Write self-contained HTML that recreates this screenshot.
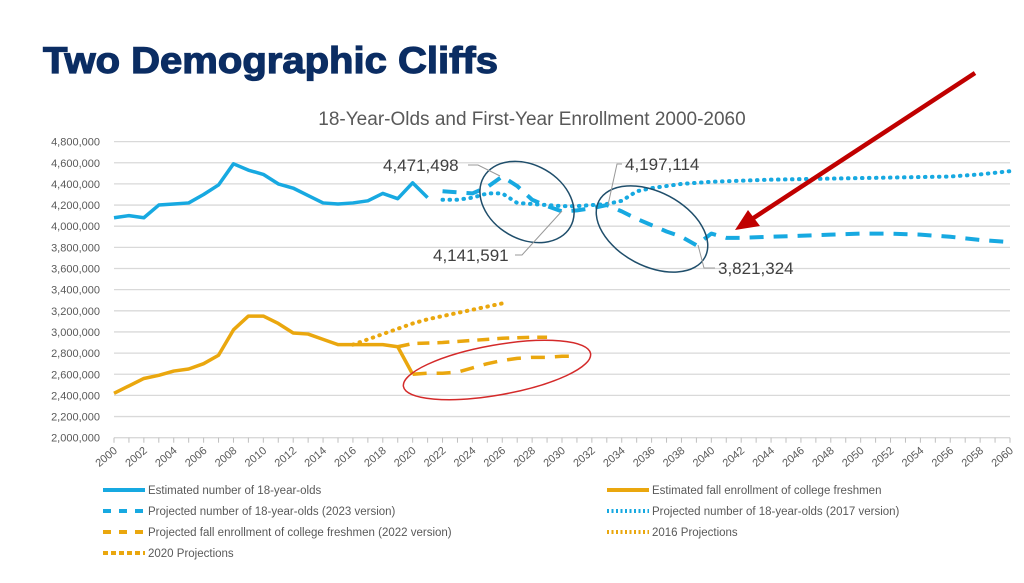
<!DOCTYPE html>
<html><head><meta charset="utf-8"><style>
html,body{margin:0;padding:0;background:#fff;width:1024px;height:583px;overflow:hidden}
svg text{font-family:"Liberation Sans",sans-serif}
</style></head><body>
<svg id="c" width="1024" height="583" xmlns="http://www.w3.org/2000/svg">
<text x="43" y="73" font-size="37" font-weight="bold" fill="#0b2d63" stroke="#0b2d63" stroke-width="1.2" textLength="455" lengthAdjust="spacingAndGlyphs">Two Demographic Cliffs</text>
<text x="532" y="125" font-size="19" fill="#595959" text-anchor="middle">18-Year-Olds and First-Year Enrollment 2000-2060</text>
<g id="grid"></g><g id="series"></g><g id="anno"></g><g id="legend"></g>
</svg>
<script>
const years18 = [2000,2001,2002,2003,2004,2005,2006,2007,2008,2009,2010,2011,2012,2013,2014,2015,2016,2017,2018,2019,2020,2021];
const est18 = [4.08,4.10,4.08,4.20,4.21,4.22,4.30,4.39,4.59,4.53,4.49,4.40,4.36,4.29,4.22,4.21,4.22,4.24,4.31,4.26,4.41,4.27];
const yearsP23 = [2022,2023,2024,2025,2026,2027,2028,2029,2030,2031,2032,2033,2034,2035,2036,2037,2038,2039,2040,2041,2042,2044,2046,2048,2050,2052,2054,2056,2058,2060];
const proj23 = [4.33,4.32,4.31,4.37,4.47,4.38,4.25,4.19,4.14,4.15,4.17,4.20,4.14,4.07,4.01,3.95,3.90,3.82,3.93,3.89,3.89,3.90,3.91,3.92,3.93,3.93,3.92,3.90,3.87,3.85];
const yearsP17 = [2022,2023,2024,2025,2026,2027,2028,2029,2030,2031,2032,2033,2034,2035,2036,2037,2038,2040,2044,2048,2052,2056,2058,2060];
const proj17 = [4.25,4.25,4.27,4.31,4.31,4.22,4.21,4.20,4.19,4.19,4.20,4.21,4.24,4.33,4.36,4.38,4.40,4.42,4.44,4.45,4.46,4.47,4.49,4.52];
const yearsEnr = [2000,2001,2002,2003,2004,2005,2006,2007,2008,2009,2010,2011,2012,2013,2014,2015,2016,2017,2018,2019,2020];
const estEnr = [2.42,2.49,2.56,2.59,2.63,2.65,2.70,2.78,3.02,3.15,3.15,3.08,2.99,2.98,2.93,2.88,2.88,2.88,2.88,2.86,2.60];
const yearsE22 = [2019,2020,2022,2024,2026,2028,2029];
const projE22 = [2.86,2.89,2.90,2.92,2.94,2.95,2.95];
const years16 = [2016,2017,2018,2019,2020,2021,2022,2023,2024,2025,2026];
const proj16 = [2.88,2.93,2.98,3.03,3.08,3.12,3.15,3.18,3.21,3.24,3.27];
const years20 = [2020,2021,2022,2023,2024,2025,2026,2027,2028,2029,2030,2031];
const proj20 = [2.60,2.61,2.61,2.62,2.66,2.70,2.73,2.75,2.76,2.76,2.77,2.77];
const yTicks = [2.0,2.2,2.4,2.6,2.8,3.0,3.2,3.4,3.6,3.8,4.0,4.2,4.4,4.6,4.8];
const yTickLabels = ["2,000,000","2,200,000","2,400,000","2,600,000","2,800,000","3,000,000","3,200,000","3,400,000","3,600,000","3,800,000","4,000,000","4,200,000","4,400,000","4,600,000","4,800,000"];
const xLabelYears = [2000,2002,2004,2006,2008,2010,2012,2014,2016,2018,2020,2022,2024,2026,2028,2030,2032,2034,2036,2038,2040,2042,2044,2046,2048,2050,2052,2054,2056,2058,2060];

const NS="http://www.w3.org/2000/svg";
const X=y=>114+(y-2000)*(1010-114)/60;
const Y=v=>437.7-(v-2.0)/0.2*21.15;
function mk(tag,attrs,parent){const e=document.createElementNS(NS,tag);for(const k in attrs)e.setAttribute(k,attrs[k]);parent.appendChild(e);return e;}
const grid=document.getElementById('grid');
yTicks.forEach((v,i)=>{
  const l=mk('line',{x1:114,x2:1010,y1:Y(v),y2:Y(v),stroke:'#d9d9d9','stroke-width':1.3},grid);
  
  
  const t=mk('text',{x:100,y:Y(v)+4,'font-size':11,fill:'#595959','text-anchor':'end'},grid);
  t.textContent=yTickLabels[i];
  
  
});
for(let yr=2000;yr<=2060;yr++){
  const tk=mk('line',{x1:X(yr),x2:X(yr),y1:Y(2.0),y2:Y(2.0)+5,stroke:'#bfbfbf','stroke-width':1},grid);
  
  
}
xLabelYears.forEach(yr=>{
  const t=mk('text',{x:X(yr)+4,y:Y(2.0)+14,'font-size':11,fill:'#595959','text-anchor':'end',transform:`rotate(-40 ${X(yr)+4} ${Y(2.0)+14})`},grid);
  t.textContent=yr;
  
  
});
const ser=document.getElementById('series');
function line(xs,vs,color,dash,w,name){
  const p=mk('polyline',{points:xs.map((x,i)=>X(x)+','+Y(vs[i])).join(' '),fill:'none',stroke:color,'stroke-width':w,'stroke-linejoin':'round','stroke-linecap':dash==='0.5 6.5'?'round':'butt'},ser);
  if(dash)p.setAttribute('stroke-dasharray',dash);
  
  
}
const BL='#17a9e1',OR='#eaa70e';
line(yearsP17,proj17,BL,'0.5 6.5',4,'projected-18yo-2017-line');
line(years16,proj16,OR,'0.5 6.5',4,'projections-2016-line');
line(years18,est18,BL,null,3.5,'estimated-18yo-line');
line(yearsP23,proj23,BL,'14 10',4,'projected-18yo-2023-line');
line(yearsEnr,estEnr,OR,null,3.5,'estimated-enrollment-line');
line(yearsE22,projE22,OR,'12 8',3.5,'projected-enrollment-2022-line');
line(years20,proj20,OR,'14 10',3.5,'projections-2020-line');

const an=document.getElementById('anno');
function ell(cx,cy,rx,ry,rot,col,name){
  const e=mk('ellipse',{cx,cy,rx,ry,transform:`rotate(${rot} ${cx} ${cy})`,fill:'none',stroke:col,'stroke-width':1.5},an);
  
  
}
ell(527,202,50,37,30,'#1f4e6b','highlight-ellipse-1');
ell(652,229,60,37,28,'#1f4e6b','highlight-ellipse-2');
ell(497,370,95,25,-10,'#d42a2a','highlight-ellipse-enrollment');
function callout(tx,ty,label,path,name){
  const p=mk('polyline',{points:path,fill:'none',stroke:'#999','stroke-width':1},an);
  
  
  const t=mk('text',{x:tx,y:ty,'font-size':17,fill:'#404040'},an);
  t.textContent=label;
  
  
}
callout(383,171,'4,471,498','468,165 478,165 500,176','label-4471498');
callout(625,170,'4,197,114','622,164 617,164 608,205','label-4197114');
callout(433,261,'4,141,591','515,255 522,255 562,211','label-4141591');
callout(718,274,'3,821,324','715,268 704,268 698,245','label-3821324');
const ar=mk('line',{x1:975,y1:73,x2:752,y2:219,stroke:'#c00000','stroke-width':4.5},an);


const ah=mk('polygon',{points:'735,230 748,210 760,226',fill:'#c00000'},an);



const lg=document.getElementById('legend');
const legendItems=[
 [103,490,BL,null,'Estimated number of 18-year-olds'],
 [607,490,OR,null,'Estimated fall enrollment of college freshmen'],
 [103,511,BL,'8 8','Projected number of 18-year-olds (2023 version)'],
 [607,511,BL,'2 2.5','Projected number of 18-year-olds (2017 version)'],
 [103,532,OR,'8 8','Projected fall enrollment of college freshmen (2022 version)'],
 [607,532,OR,'2 2.5','2016 Projections'],
 [103,553,OR,'5 3','2020 Projections']];
legendItems.forEach(([x,y,c,d,txt])=>{
  const g=mk('g',{},lg);
  
  
  const l=mk('line',{x1:x,x2:x+42,y1:y,y2:y,stroke:c,'stroke-width':4},g);
  if(d)l.setAttribute('stroke-dasharray',d);
  const t=mk('text',{x:x+45,y:y+4,'font-size':11.5,fill:'#595959'},g);
  t.textContent=txt;
});
</script>
</body></html>
